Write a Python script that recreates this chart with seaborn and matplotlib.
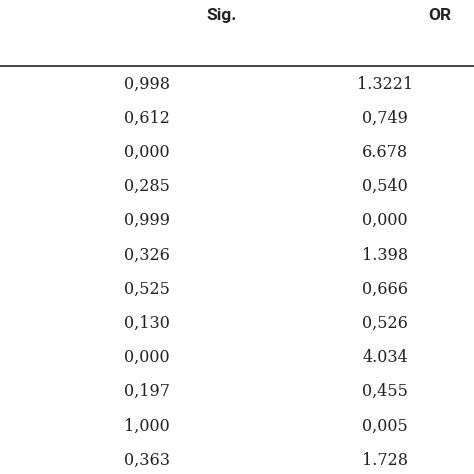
import matplotlib
matplotlib.use("Agg")
import matplotlib.pyplot as plt
import seaborn as sns

sns.set_style("white")
plt.rcParams['font.family'] = ['DejaVu Serif']

headers = ["Sig.", "OR"]
sig = ["0,998", "0,612", "0,000", "0,285", "0,999", "0,326", "0,525", "0,130", "0,000", "0,197", "1,000", "0,363"]
or_vals = ["1.3221", "0,749", "6.678", "0,540", "0,000", "1.398", "0,666", "0,526", "4.034", "0,455", "0,005", "1.728"]

fig = plt.figure(figsize=(4.74, 4.74), dpi=100)
ax = fig.add_axes([0, 0, 1, 1])
ax.set_xlim(0, 474)
ax.set_ylim(474, 0)
ax.axis("off")

ax.text(222, 15, headers[0], ha="center", va="center", fontsize=12.5, fontweight="bold",
        color="#222222", family=["Roboto", "DejaVu Sans"], fontstretch="condensed")
ax.text(440, 15, headers[1], ha="center", va="center", fontsize=12.5, fontweight="bold",
        color="#222222", family=["Roboto", "DejaVu Sans"])
ax.plot([0, 474], [66, 66], color="#222222", lw=1.2)

for i, (s, o) in enumerate(zip(sig, or_vals)):
    y = 84 + i * 34.2
    ax.text(147, y, s, ha="center", va="center", fontsize=11.5, color="#222222")
    ax.text(385, y, o, ha="center", va="center", fontsize=11.5, color="#222222")

fig.savefig("out.png", dpi=100, facecolor="white")
